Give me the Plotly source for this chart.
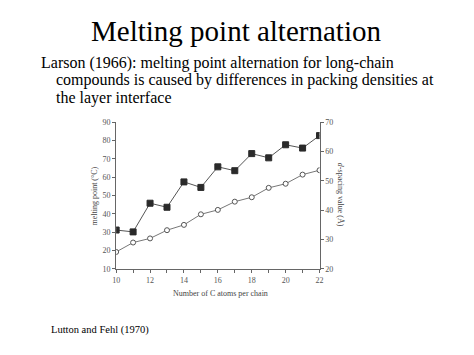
import plotly.graph_objects as go

# Data
carbons = [10, 11, 12, 13, 14, 15, 16, 17, 18, 19, 20, 21, 22]
melting_point = [31.2, 30.2, 45.8, 43.6, 57.4, 54.4, 65.6, 63.5, 72.8, 70.5, 77.6, 75.8, 82.6]
d_spacing = [25.8, 29.0, 30.4, 33.2, 35.0, 38.6, 40.1, 42.9, 44.4, 47.6, 49.0, 52.1, 53.6]

x_tickvals = list(range(10, 23))
x_ticktext = [str(v) if v % 2 == 0 else "" for v in x_tickvals]
left_ticks = [10, 20, 30, 40, 50, 60, 70, 80, 90]
right_ticks = [20, 30, 40, 50, 60, 70]

OFF = 8  # default page body margin
W, H = 474 - 2 * OFF, 355 - 2 * OFF


def px(x):
    return (x - OFF) / W


def py(y):
    return 1 - (y - OFF) / H


serif = "Liberation Serif, Times New Roman, serif"
axis_col = "#666666"
tick_font = dict(family=serif, size=8, color="#555555")

fig = go.Figure()
fig.add_trace(go.Scatter(
    x=carbons, y=melting_point, mode="lines+markers",
    line=dict(color="#555555", width=1),
    marker=dict(symbol="square", size=6, color="#2a2a2a", line=dict(color="#2a2a2a", width=1)),
    xaxis="x", yaxis="y", showlegend=False))
fig.add_trace(go.Scatter(
    x=carbons, y=d_spacing, mode="lines+markers",
    line=dict(color="#777777", width=1),
    marker=dict(symbol="circle", size=5, color="white", line=dict(color="#555555", width=1)),
    xaxis="x", yaxis="y2", showlegend=False))

fig.update_layout(
    width=W, height=H,
    margin=dict(l=0, r=0, t=0, b=0),
    paper_bgcolor="white", plot_bgcolor="white",
    xaxis=dict(domain=[px(114), px(321)], range=[10, 22], tickvals=x_tickvals, ticktext=x_ticktext,
               showgrid=False, zeroline=False, showline=True, linecolor=axis_col, linewidth=1,
               ticks="outside", ticklen=3, tickcolor=axis_col, tickfont=tick_font, anchor="y"),
    yaxis=dict(domain=[py(272), py(121)], range=[10, 90], tickvals=left_ticks,
               showgrid=False, zeroline=False, showline=True, linecolor=axis_col, linewidth=1,
               ticks="outside", ticklen=3, tickcolor=axis_col, tickfont=tick_font, anchor="x"),
    yaxis2=dict(domain=[py(272), py(121)], range=[20, 70], tickvals=right_ticks, overlaying="y", side="right",
                showgrid=False, zeroline=False, showline=True, linecolor=axis_col, linewidth=1,
                ticks="outside", ticklen=3, tickcolor=axis_col, tickfont=tick_font, anchor="x"),
)

ann = [
    dict(text="Melting point alternation", x=px(236), y=py(28), xanchor="center", yanchor="middle",
         font=dict(family=serif, size=29, color="black")),
    dict(text="Larson (1966): melting point alternation for long-chain", x=px(35), y=py(60),
         xanchor="left", yanchor="middle", font=dict(family=serif, size=16, color="black")),
    dict(text="compounds is caused by differences in packing densities at", x=px(51), y=py(78),
         xanchor="left", yanchor="middle", font=dict(family=serif, size=16, color="black")),
    dict(text="the layer interface", x=px(51), y=py(96),
         xanchor="left", yanchor="middle", font=dict(family=serif, size=16, color="black")),
    dict(text="Lutton and Fehl (1970)", x=px(46), y=py(335),
         xanchor="left", yanchor="middle", font=dict(family=serif, size=10.5, color="black")),
    dict(text="Number of C atoms per chain", x=px(220), y=py(297),
         xanchor="center", yanchor="middle", font=dict(family=serif, size=8, color="#444444")),
    dict(text="melting point (°C)", x=px(92), y=py(197), textangle=-90,
         xanchor="center", yanchor="middle", font=dict(family=serif, size=8, color="#444444")),
    dict(text="<i>d</i>-spacing value (Å)", x=px(343), y=py(196), textangle=90,
         xanchor="center", yanchor="middle", font=dict(family=serif, size=8, color="#444444")),
]
for a in ann:
    a.update(xref="paper", yref="paper", showarrow=False)
fig.update_layout(annotations=ann)

fig.write_html("out.html")
